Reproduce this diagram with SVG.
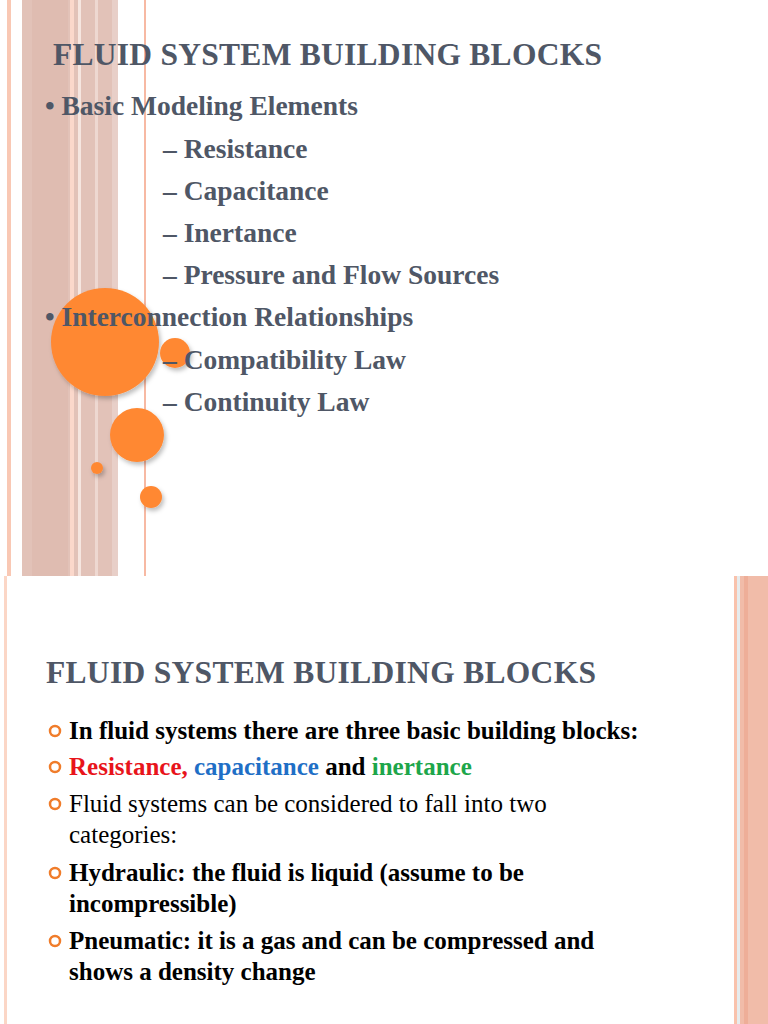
<svg xmlns="http://www.w3.org/2000/svg" width="768" height="1024" viewBox="0 0 768 1024">
<style>
.t{font-family:"Liberation Serif",serif;font-weight:bold;fill:#4f5766}
.h{font-size:31.5px}
.a{font-size:27.5px}
.b{font-family:"Liberation Serif",serif;font-size:25px;fill:#000}
.bb{font-weight:bold}
.c{fill:#ff8833}
.bul{fill:none;stroke:#f07c2a;stroke-width:2.5}
</style>
<defs><filter id="sh"><feDropShadow dx="2" dy="3" stdDeviation="2" flood-color="#000" flood-opacity="0.25"/></filter></defs>
<rect width="768" height="1024" fill="#fff"/>
<g id="slide1-bg">
<rect x="7" y="0" width="4" height="576" fill="#f9c8b4"/>
<rect x="22" y="0" width="96" height="576" fill="#e2c2b8"/>
<rect x="32" y="0" width="36" height="576" fill="#dfbcb1"/>
<rect x="70" y="0" width="4" height="576" fill="#fbd8cb"/>
<rect x="78" y="0" width="3" height="576" fill="#f6e6e0"/>
<rect x="95" y="0" width="3" height="576" fill="#eed8d1"/>
<rect x="112" y="0" width="6" height="576" fill="#e8cfc8"/>
<rect x="144" y="0" width="2" height="576" fill="#f7b9a3"/>
</g>
<g id="circles" filter="url(#sh)">
<circle class="c" cx="105" cy="342" r="54"/>
<circle class="c" cx="175" cy="353" r="15"/>
<circle class="c" cx="137" cy="435" r="27"/>
<circle class="c" cx="97" cy="468" r="6"/>
<circle class="c" cx="151" cy="497" r="11"/>
</g>
<g id="slide1-text">
<text class="t h" x="53" y="65" textLength="549">FLUID SYSTEM BUILDING BLOCKS</text>
<text class="t a" x="45" y="115">• Basic Modeling Elements</text>
<text class="t a" x="163" y="158">– Resistance</text>
<text class="t a" x="163" y="200">– Capacitance</text>
<text class="t a" x="163" y="242">– Inertance</text>
<text class="t a" x="163" y="284">– Pressure and Flow Sources</text>
<text class="t a" x="45" y="326">• Interconnection Relationships</text>
<text class="t a" x="163" y="369">– Compatibility Law</text>
<text class="t a" x="163" y="411">– Continuity Law</text>
</g>
<g id="slide2-bg">
<rect x="0" y="576" width="12" height="448" fill="#fff"/>
<rect x="4" y="576" width="3" height="448" fill="#fbd6c6"/>
<rect x="734" y="576" width="3" height="448" fill="#f9c2ac"/>
<rect x="737" y="576" width="3" height="448" fill="#e6ecee"/>
<rect x="740" y="576" width="28" height="448" fill="#f1bca9"/>
<rect x="744" y="576" width="4" height="448" fill="#eeae98"/>
</g>
<g id="slide2-text">
<text class="t h" x="46" y="683" textLength="550">FLUID SYSTEM BUILDING BLOCKS</text>
<circle class="bul" cx="55" cy="731" r="5"/>
<text class="b bb" x="69" y="739">In fluid systems there are three basic building blocks:</text>
<circle class="bul" cx="55" cy="767" r="5"/>
<text class="b bb" x="69" y="775"><tspan fill="#e8141b">Resistance,</tspan> <tspan fill="#1f6fc6">capacitance</tspan> and <tspan fill="#1da64a">inertance</tspan></text>
<circle class="bul" cx="55" cy="804" r="5"/>
<text class="b" x="69" y="812">Fluid systems can be considered to fall into two</text>
<text class="b" x="69" y="843">categories:</text>
<circle class="bul" cx="55" cy="873" r="5"/>
<text class="b bb" x="69" y="881">Hydraulic: the fluid is liquid (assume to be</text>
<text class="b bb" x="69" y="912">incompressible)</text>
<circle class="bul" cx="55" cy="941" r="5"/>
<text class="b bb" x="69" y="949">Pneumatic: it is a gas and can be compressed and</text>
<text class="b bb" x="69" y="980">shows a density change</text>
</g>
</svg>
